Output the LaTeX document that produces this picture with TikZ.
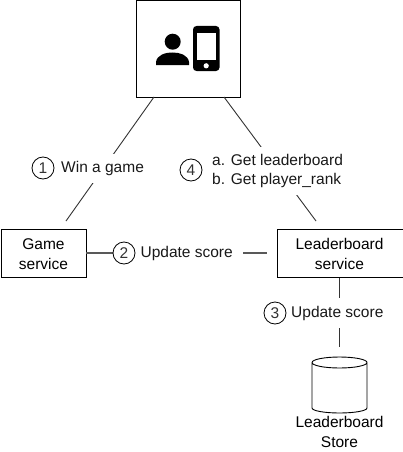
\documentclass[tikz,border=0pt]{standalone}
\usepackage{fontspec}
\setmainfont{Liberation Sans}
\tikzset{
  box/.style={draw=black,line width=0.9pt,fill=white,minimum width=#1,align=center,inner sep=0pt,font=\fontsize{15.5}{20}\selectfont},
  link/.style={draw=black!80,line width=0.9pt},
  num/.style={draw=black,circle,line width=0.8pt,minimum size=22pt,inner sep=0pt,fill=white,font=\fontsize{15.5}{16}\selectfont,text=black!80},
  lbl/.style={fill=white,inner sep=0pt,align=left,text=black!90,font=\fontsize{15.5}{19}\selectfont},
  caption/.style={inner sep=0pt,align=center,font=\fontsize{15.5}{20}\selectfont}
}
\begin{document}
\begin{tikzpicture}[x=1pt,y=-1pt]
\useasboundingbox (0,0) rectangle (403,452);
\clip (0,0) rectangle (403,452);
\fill[white] (0,0) rectangle (403,452);
% boxes
\node[box=104.5pt,minimum height=96pt,anchor=north west] (client) at (135.5,0.5) {};
\node[box=85pt,minimum height=48.5pt,anchor=north west] (game) at (0.5,228.5) {};
\node[caption] (gametext) at (43.5,254) {Game\\service};
\node[box=135pt,minimum height=48.5pt,anchor=north west] (board) at (276.5,228.5) {};
\node[caption] (boardtext) at (339.5,254) {Leaderboard\\service};
% free ends of connectors
\coordinate (c1) at (66,221);
\coordinate (s1) at (154,97);
\coordinate (s2) at (224,97);
\coordinate (c2) at (316,221);
\coordinate (c3) at (267,253);
\coordinate (c4) at (339.5,347);
\draw[link] (s1) -- (c1);
\draw[link] (s2) -- (c2);
\draw[link,black!65,line width=1.2pt] (game.east |- c3) -- (c3);
\draw[link] (c4 |- board.south) -- (c4);
% labels
\node[lbl,anchor=west,minimum height=29pt] (l1) at (61,168.5) {Win a game};
\node[num] (n1) at (43,168) {1};
\node[lbl,anchor=west,minimum height=22pt,minimum width=112pt] (l2) at (130.5,253) {Update score};
\node[num] (n2) at (124,253) {2};
\node[lbl,anchor=west,minimum height=30pt] (l3) at (291,313) {Update score};
\node[num] (n3) at (275,313) {3};
\node[lbl,anchor=west,minimum height=48pt] (l4) at (212,171) {a. Get leaderboard\\b. Get player\_rank};
\node[num] (n4) at (191,170) {4};
% store
\filldraw[fill=white,draw=black,line width=0.9pt] (312,362.5) -- (312,408) arc[start angle=180,end angle=360,x radius=27.5,y radius=-5] -- (367,362.5) arc[start angle=0,end angle=360,x radius=27.5,y radius=-5.5];
\node[caption,anchor=north] (storelabel) at (339.5,416.5) {Leaderboard\\Store};
% icon
\fill[black] (172.7,41.7) circle (8);
\fill[black] (156,65) -- (156,62) .. controls (157,55) and (165,52.5) .. (172.7,52.5) .. controls (180,52.5) and (188,55) .. (189,62) -- (189,65) -- cycle;
\fill[black,rounded corners=3.5pt] (193,26) rectangle (219.5,71);
\fill[white] (197,33) rectangle (216,60);
\fill[white] (206.2,65.8) circle (2.6);
\end{tikzpicture}
\end{document}
